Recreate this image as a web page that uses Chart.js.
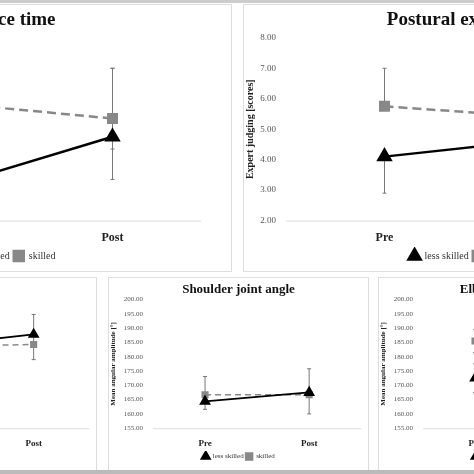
<!DOCTYPE html>
<html><head><meta charset="utf-8">
<script src="https://cdn.jsdelivr.net/npm/chart.js@4"></script>
<style>
body{margin:0;width:474px;height:474px;overflow:hidden;background:#fff;position:relative}
.top{position:absolute;left:0;top:0;width:474px;height:3px;background:#ccc}
.bot{position:absolute;left:0;top:470px;width:474px;height:4px;background:#bbb}
.p{position:absolute;border:1px solid #ddd;background:#fff}
</style></head><body>
<div class="top"></div>
<div class="p" style="left:-196px;top:4px;width:426px;height:266px"><canvas id="cA"></canvas></div>
<div class="p" style="left:243px;top:4px;width:466px;height:266px"><canvas id="cB"></canvas></div>
<div class="p" style="left:-178px;top:277px;width:273px;height:192px"><canvas id="cC"></canvas></div>
<div class="p" style="left:108px;top:277px;width:259px;height:192px"><canvas id="cD"></canvas></div>
<div class="p" style="left:378px;top:277px;width:259px;height:192px"><canvas id="cE"></canvas></div>
<div class="bot"></div>
<script>
const phases = ['Pre', 'Post'];

// Balance time
const balLess = [3.0, 4.75], balLessErr = [[1.0, 1.0], [2.25, 1.4]];
const balSkill = [5.9, 5.35], balSkillErr = [[1.0, 1.0], [1.65, 1.0]];
// Postural execution
const posLess = [4.1, 4.8], posLessErr = [[0, 1.2], [0.9, 0.9]];
const posSkill = [5.75, 5.3], posSkillErr = [[1.25, 0], [0.8, 0.8]];
// Strategy
const strLess = [183.5, 187.8], strLessErr = [[3, 3], [0, 0]];
const strSkill = [183.5, 184.3], strSkillErr = [[3, 3], [10.5, 5.3]];
// Shoulder joint angle
const shLess = [164.4, 167.5], shLessErr = [[0, 2.8], [8.3, 0]];
const shSkill = [166.7, 166.7], shSkillErr = [[6.4, 0], [0, 6.7]];
// Elbow joint angle
const elLess = [172.5, 176], elLessErr = [[5, 5], [5, 5]];
const elSkill = [185.5, 183], elSkillErr = [[4, 4], [4, 4]];

const serif = 'Liberation Serif';

const errorBars = {
  id: 'errorBars',
  beforeDatasetsDraw(chart) {
    const ctx = chart.ctx, y = chart.scales.y;
    chart.data.datasets.forEach((ds, i) => {
      const meta = chart.getDatasetMeta(i);
      meta.data.forEach((pt, j) => {
        const [up, down] = ds.err[j];
        if (!up && !down) return;
        const v = ds.data[j];
        const y1 = y.getPixelForValue(v + up), y2 = y.getPixelForValue(v - down);
        ctx.save();
        ctx.strokeStyle = '#777'; ctx.lineWidth = 1;
        ctx.beginPath();
        ctx.moveTo(pt.x, y1); ctx.lineTo(pt.x, y2);
        if (up) { ctx.moveTo(pt.x - 2, y1); ctx.lineTo(pt.x + 2, y1); }
        if (down) { ctx.moveTo(pt.x - 2, y2); ctx.lineTo(pt.x + 2, y2); }
        ctx.stroke();
        ctx.restore();
      });
    });
  }
};

function make(id, title, yTitle, less, lessErr, skill, skillErr, yMin, yMax, step, big) {
  new Chart(document.getElementById(id), {
    type: 'line',
    data: {
      labels: phases,
      datasets: [
        { label: 'less skilled', data: less, err: lessErr, borderColor: '#000', backgroundColor: '#000',
          borderWidth: big ? 2.5 : 1.8, pointStyle: 'triangle', pointRadius: big ? 7 : 5 },
        { label: 'skilled', data: skill, err: skillErr, borderColor: '#888', backgroundColor: '#888',
          borderWidth: big ? 2.5 : 1.5, borderDash: big ? [9, 5] : [6, 4], pointStyle: 'rect', pointRadius: big ? 6 : 4 }
      ]
    },
    options: {
      responsive: true, maintainAspectRatio: false, animation: false,
      layout: { padding: { left: 0, right: big ? 30 : 0, top: 0, bottom: 0 } },
      plugins: {
        title: { display: true, text: title, color: '#111', font: { family: serif, size: big ? 19 : 13, weight: 'bold' }, padding: { top: 4, bottom: big ? 6 : 2 } },
        legend: { position: 'bottom', labels: { usePointStyle: true, color: '#333', boxWidth: 20, padding: big ? 4 : 2, font: { family: serif, size: big ? 10 : 7 } } },
        tooltip: { enabled: false }
      },
      scales: {
        x: { offset: true, grid: { display: false }, border: { display: false },
             ticks: { padding: 2, color: '#222', font: { family: serif, size: big ? 12 : 9, weight: 'bold' } } },
        y: { min: yMin, max: yMax, grid: { display: false }, border: { display: false },
             afterFit(s) { s.width = big ? 42 : 44; },
             title: { display: true, text: yTitle, padding: 0, color: '#222', font: { family: serif, size: big ? 10 : 7, weight: 'bold' } },
             ticks: { stepSize: step, padding: 2, color: '#555', font: { family: serif, size: big ? 9 : 7 }, callback: v => v.toFixed(2) } }
      }
    },
    plugins: [errorBars, {
      id: 'baseline',
      afterDraw(c) {
        const a = c.chartArea, ctx = c.ctx;
        ctx.save(); ctx.strokeStyle = '#ddd'; ctx.lineWidth = 1;
        ctx.beginPath(); ctx.moveTo(a.left, a.bottom + 0.5); ctx.lineTo(a.right, a.bottom + 0.5); ctx.stroke();
        ctx.restore();
      }
    }]
  });
}

make('cA', 'Balance time', 'Balance time [s]', balLess, balLessErr, balSkill, balSkillErr, 2, 8, 1, true);
make('cB', 'Postural execution', 'Expert judging [scores]', posLess, posLessErr, posSkill, posSkillErr, 2, 8, 1, true);
make('cC', 'Strategy', 'Mean angular amplitude [°]', strLess, strLessErr, strSkill, strSkillErr, 155, 200, 5, false);
make('cD', 'Shoulder joint angle', 'Mean angular amplitude [°]', shLess, shLessErr, shSkill, shSkillErr, 155, 200, 5, false);
make('cE', 'Elbow joint angle', 'Mean angular amplitude [°]', elLess, elLessErr, elSkill, elSkillErr, 155, 200, 5, false);
</script>
</body></html>
